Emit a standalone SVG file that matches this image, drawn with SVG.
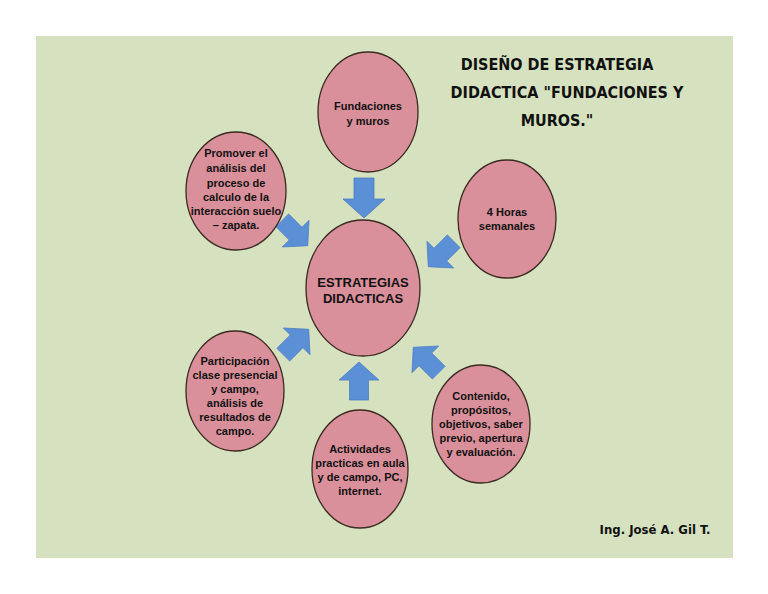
<svg xmlns="http://www.w3.org/2000/svg" width="768" height="594" viewBox="0 0 768 594">
<style>
.n{fill:#d9909a;stroke:#3a2a20;stroke-width:1.3}
.t{font-family:"Liberation Sans",Arial,sans-serif;font-weight:bold;font-size:11px;fill:#111;text-anchor:middle}
.c{font-size:13px}
.h{font-family:"DejaVu Sans Condensed","DejaVu Sans",sans-serif;font-weight:bold;font-size:16px;fill:#111;text-anchor:middle}
.a{fill:#5b8fd6;stroke:#4a7cc0;stroke-width:0.8}
</style>
<defs><path id="ar" d="M-20,-10 H1 V-21 L20,0 L1,21 V10 H-20 Z"/></defs>
<rect width="768" height="594" fill="#fff"/>
<rect x="36" y="36" width="697" height="522" fill="#d6e2bf"/>
<g id="title">
<text class="h" x="557" y="70">DISEÑO DE ESTRATEGIA</text>
<text class="h" x="567" y="98">DIDACTICA "FUNDACIONES Y</text>
<text class="h" x="557" y="126">MUROS."</text>
</g>
<g id="connectors">
<use href="#ar" class="a" transform="translate(364,198) rotate(90)"/>
<use href="#ar" class="a" transform="translate(359,381) rotate(-90) scale(0.95)"/>
<use href="#ar" class="a" transform="translate(295,233) rotate(45) scale(0.9)"/>
<use href="#ar" class="a" transform="translate(441,254) rotate(135) scale(0.9)"/>
<use href="#ar" class="a" transform="translate(296,342) rotate(-45) scale(0.9)"/>
<use href="#ar" class="a" transform="translate(426,360) rotate(-135) scale(0.9)"/>
</g>
<g id="n-fund"><ellipse class="n" cx="368" cy="112" rx="50" ry="60"/>
<text class="t" x="368" y="110">Fundaciones</text><text class="t" x="368" y="125">y muros</text></g>
<g id="n-prom"><ellipse class="n" cx="236" cy="191" rx="50" ry="59"/>
<text class="t" x="236" y="157">Promover el</text><text class="t" x="236" y="172">análisis del</text><text class="t" x="236" y="187">proceso de</text><text class="t" x="236" y="201">calculo de la</text><text class="t" x="236" y="215">interacción suelo</text><text class="t" x="236" y="229">– zapata.</text></g>
<g id="n-center"><ellipse class="n" cx="363" cy="288" rx="57" ry="68"/>
<text class="t c" x="363" y="287">ESTRATEGIAS</text><text class="t c" x="363" y="303">DIDACTICAS</text></g>
<g id="n-horas"><ellipse class="n" cx="507" cy="219" rx="49" ry="59"/>
<text class="t" x="507" y="216">4 Horas</text><text class="t" x="507" y="230">semanales</text></g>
<g id="n-part"><ellipse class="n" cx="235" cy="391" rx="49" ry="60"/>
<text class="t" x="235" y="365">Participación</text><text class="t" x="235" y="379">clase presencial</text><text class="t" x="235" y="393">y campo,</text><text class="t" x="235" y="407">análisis de</text><text class="t" x="235" y="421">resultados de</text><text class="t" x="235" y="435">campo.</text></g>
<g id="n-act"><ellipse class="n" cx="360" cy="469" rx="48" ry="59"/>
<text class="t" x="360" y="453">Actividades</text><text class="t" x="360" y="467">practicas en aula</text><text class="t" x="360" y="481">y de campo, PC,</text><text class="t" x="360" y="495">internet.</text></g>
<g id="n-cont"><ellipse class="n" cx="481" cy="424" rx="49" ry="59"/>
<text class="t" x="481" y="400">Contenido,</text><text class="t" x="481" y="414">propósitos,</text><text class="t" x="481" y="428">objetivos, saber</text><text class="t" x="481" y="442">previo, apertura</text><text class="t" x="481" y="456">y evaluación.</text></g>
<g id="sig"><text class="h" x="655" y="534" style="font-size:13px">Ing. José A. Gil T.</text></g>
</svg>
